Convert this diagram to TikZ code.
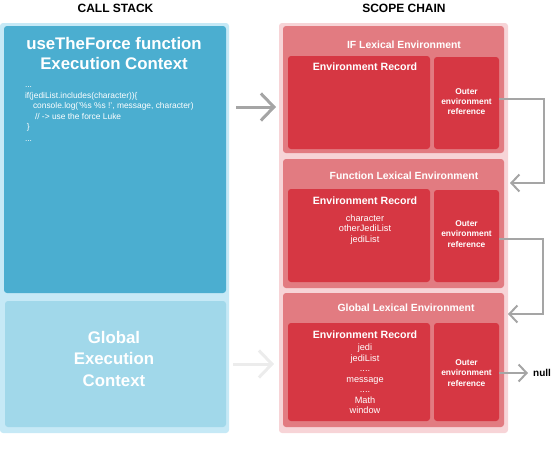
\documentclass[tikz,border=0pt]{standalone}
\usepackage{fontspec}
\setmainfont{Liberation Sans}
\usetikzlibrary{arrows.meta}
\definecolor{bouter}{HTML}{C6E9F6}
\definecolor{bdark}{HTML}{4BAED0}
\definecolor{blight}{HTML}{A1D8EA}
\definecolor{router}{HTML}{F7D4D7}
\definecolor{rlex}{HTML}{E27B81}
\definecolor{rinner}{HTML}{D63743}
\definecolor{conncol}{HTML}{A5A5A5}
\definecolor{fadecol}{HTML}{ECECEC}
\begin{document}
\begin{tikzpicture}[x=1pt,y=-1pt,
  box/.style={rectangle, rounded corners=3pt, inner sep=0pt, outer sep=0pt, anchor=north west},
  lbl/.style={anchor=base, inner sep=0pt, outer sep=0pt, text=white},
  codel/.style={anchor=base west, inner sep=0pt, outer sep=0pt, text=white, font=\fontsize{8.4}{9}\selectfont},
  bigtitle/.style={lbl, font=\fontsize{16.8}{20}\selectfont\bfseries},
  head/.style={lbl, text=black, font=\fontsize{12}{14}\selectfont\bfseries},
  lextitle/.style={lbl, font=\fontsize{10.4}{12}\selectfont\bfseries},
  rectitle/.style={lbl, font=\fontsize{10.6}{12}\selectfont\bfseries},
  item/.style={lbl, font=\fontsize{9.2}{11}\selectfont},
  outer/.style={lbl, font=\fontsize{8.4}{10}\selectfont\bfseries},
  conn/.style={draw=conncol, line width=2pt, -{Straight Barb[length=8pt,width=17pt]}},
  bigconn/.style={line width=3pt, -{Straight Barb[length=13pt,width=27pt]}}
]
\useasboundingbox (0,0) rectangle (552,459);

% headers
\node[head] (hcall) at (115.5,12.7) {CALL STACK};
\node[head] (hscope) at (404,12.7) {SCOPE CHAIN};

% call stack
\node[box, fill=bouter, minimum width=229pt, minimum height=410pt] (callstack) at (0,23) {};
\node[box, fill=bdark, minimum width=222pt, minimum height=267pt] (ctx) at (4,26) {};
\node[box, fill=blight, minimum width=221pt, minimum height=126pt] (gctx) at (5,301) {};

\node[bigtitle] (t1) at (114,49) {useTheForce function};
\node[bigtitle] (t2) at (114,69.5) {Execution Context};
\node[codel] (c1) at (25,87.5) {...};
\node[codel] (c2) at (25,98) {if(jediList.includes(character))\{};
\node[codel] (c3) at (33,108.5) {console.log('\%s \%s !', message, character)};
\node[codel] (c4) at (35,119) {// -> use the force Luke};
\node[codel] (c5) at (27,129.5) {\}};
\node[codel] (c6) at (25,141) {...};

\node[bigtitle] (g1) at (114,343) {Global};
\node[bigtitle] (g2) at (114,364.5) {Execution};
\node[bigtitle] (g3) at (114,386) {Context};

% scope chain
\node[box, fill=router, minimum width=229pt, minimum height=410pt] (scope) at (279,23) {};

\node[box, fill=rlex, minimum width=221pt, minimum height=127pt] (iflex) at (283,26) {};
\node[box, fill=rinner, minimum width=142pt, minimum height=93pt] (ifrec) at (288,56) {};
\node[box, fill=rinner, minimum width=65pt, minimum height=92pt] (ifout) at (434,57) {};
\node[lextitle] (ift) at (404,48) {IF Lexical Environment};
\node[rectitle] (ifrt) at (365,70) {Environment Record};
\node[outer] (ifo1) at (466.5,94) {Outer};
\node[outer] (ifo2) at (466.5,104) {environment};
\node[outer] (ifo3) at (466.5,114) {reference};

\node[box, fill=rlex, minimum width=221pt, minimum height=129pt] (funlex) at (283,159) {};
\node[box, fill=rinner, minimum width=142pt, minimum height=93pt] (funrec) at (288,189) {};
\node[box, fill=rinner, minimum width=65pt, minimum height=92pt] (funout) at (434,190) {};
\node[lextitle] (funt) at (404,179) {Function Lexical Environment};
\node[rectitle] (funrt) at (365,204) {Environment Record};
\node[item] (fi1) at (365,221) {character};
\node[item] (fi2) at (365,231.5) {otherJediList};
\node[item] (fi3) at (365,242) {jediList};
\node[outer] (funo1) at (466.5,226) {Outer};
\node[outer] (funo2) at (466.5,236.5) {environment};
\node[outer] (funo3) at (466.5,247) {reference};

\node[box, fill=rlex, minimum width=221pt, minimum height=134pt] (glex) at (283,293) {};
\node[box, fill=rinner, minimum width=142pt, minimum height=98pt] (grec) at (288,323) {};
\node[box, fill=rinner, minimum width=65pt, minimum height=98pt] (gout) at (434,323) {};
\node[lextitle] (gt) at (406,311.5) {Global Lexical Environment};
\node[rectitle] (grt) at (365,338) {Environment Record};
\node[item] (gi1) at (365,350.5) {jedi};
\node[item] (gi2) at (365,361) {jediList};
\node[item] (gi3) at (365,371.5) {....};
\node[item] (gi4) at (365,382) {message};
\node[item] (gi5) at (365,392.5) {....};
\node[item] (gi6) at (365,403) {Math};
\node[item] (gi7) at (365,413.5) {window};
\node[outer] (go1) at (466.5,365) {Outer};
\node[outer] (go2) at (466.5,375.5) {environment};
\node[outer] (go3) at (466.5,386) {reference};

\node[anchor=base west, inner sep=0pt, font=\fontsize{10}{12}\selectfont\bfseries] (null) at (533,376) {null};

% arrows from call stack
\coordinate (a1s) at (236,107);
\coordinate (a1e) at (276,107);
\draw[conncol, bigconn] (a1s) -- (a1e);
\coordinate (a2s) at (233,364);
\coordinate (a2e) at (274,364);
\draw[fadecol, bigconn] (a2s) -- (a2e);

% outer references
\coordinate (in1) at (510,183);
\coordinate (in2) at (508,314);
\draw[conn] ([yshift=4pt]ifout.east) -- ++(45,0) |- (in1);
\draw[conn] ([yshift=-3pt]funout.east) -- ++(44,0) |- (in2);
\draw[conn] ([yshift=-1pt]gout.east) -- ([xshift=-5pt,yshift=-1pt]gout.east -| null.west);
\end{tikzpicture}
\end{document}
